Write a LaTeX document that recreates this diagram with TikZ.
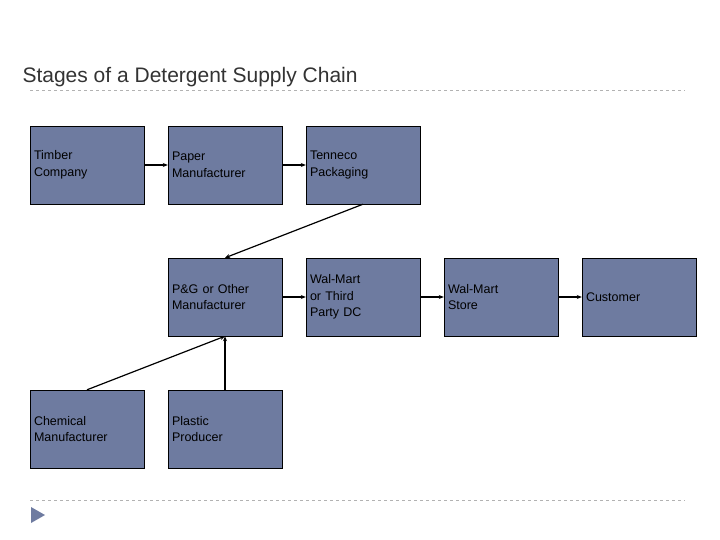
\documentclass[tikz,border=0pt]{standalone}
\usepackage{fontspec}
\setmainfont{Liberation Sans}
\usetikzlibrary{arrows.meta}
\definecolor{slate}{RGB}{110,123,160}
\begin{document}
\begin{tikzpicture}[x=1pt,y=-1pt,
  box/.style={draw=black,fill=slate,minimum width=114pt,minimum height=78pt,
    text width=106pt,align=left,inner sep=4pt,font=\fontsize{12.5}{16.5}\selectfont},
  arr/.style={-{Stealth[length=5pt,width=4pt]},line width=1.2pt}]
\useasboundingbox (0,0) rectangle (720,540);
\node[anchor=base west,font=\fontsize{21}{25}\selectfont,text=black!80] (t) at (19,83) {Stages of a Detergent Supply Chain};
\draw[gray!60,dashed] (30,90) -- (685,90);
\draw[gray!60,dashed] (30,500) -- (685,500);
\fill[slate] (31,507) -- (45,515) -- (31,523) -- cycle;
\node[box] (tim) at (87,165) {Timber\\Company};
\node[box] (pap) at (225,165) {Paper\\Manufacturer};
\node[box] (ten) at (363,165) {Tenneco\\Packaging};
\node[box] (pg) at (225,297) {P\&G or Other\\Manufacturer};
\node[box] (dc) at (363,297) {Wal-Mart\\or Third\\Party DC};
\node[box] (st) at (501,297) {Wal-Mart\\Store};
\node[box] (cu) at (639,297) {Customer};
\node[box] (ch) at (87,429) {Chemical\\Manufacturer};
\node[box] (pl) at (225,429) {Plastic\\Producer};
\draw[arr] (tim) -- (pap);
\draw[arr] (pap) -- (ten);
\draw[arr] (ten.south) -- (pg.north);
\draw[arr] (pg) -- (dc);
\draw[arr] (dc) -- (st);
\draw[arr] (st) -- (cu);
\draw[arr] (ch.north) -- (pg.south);
\draw[arr] (pl) -- (pg);
\end{tikzpicture}
\end{document}
